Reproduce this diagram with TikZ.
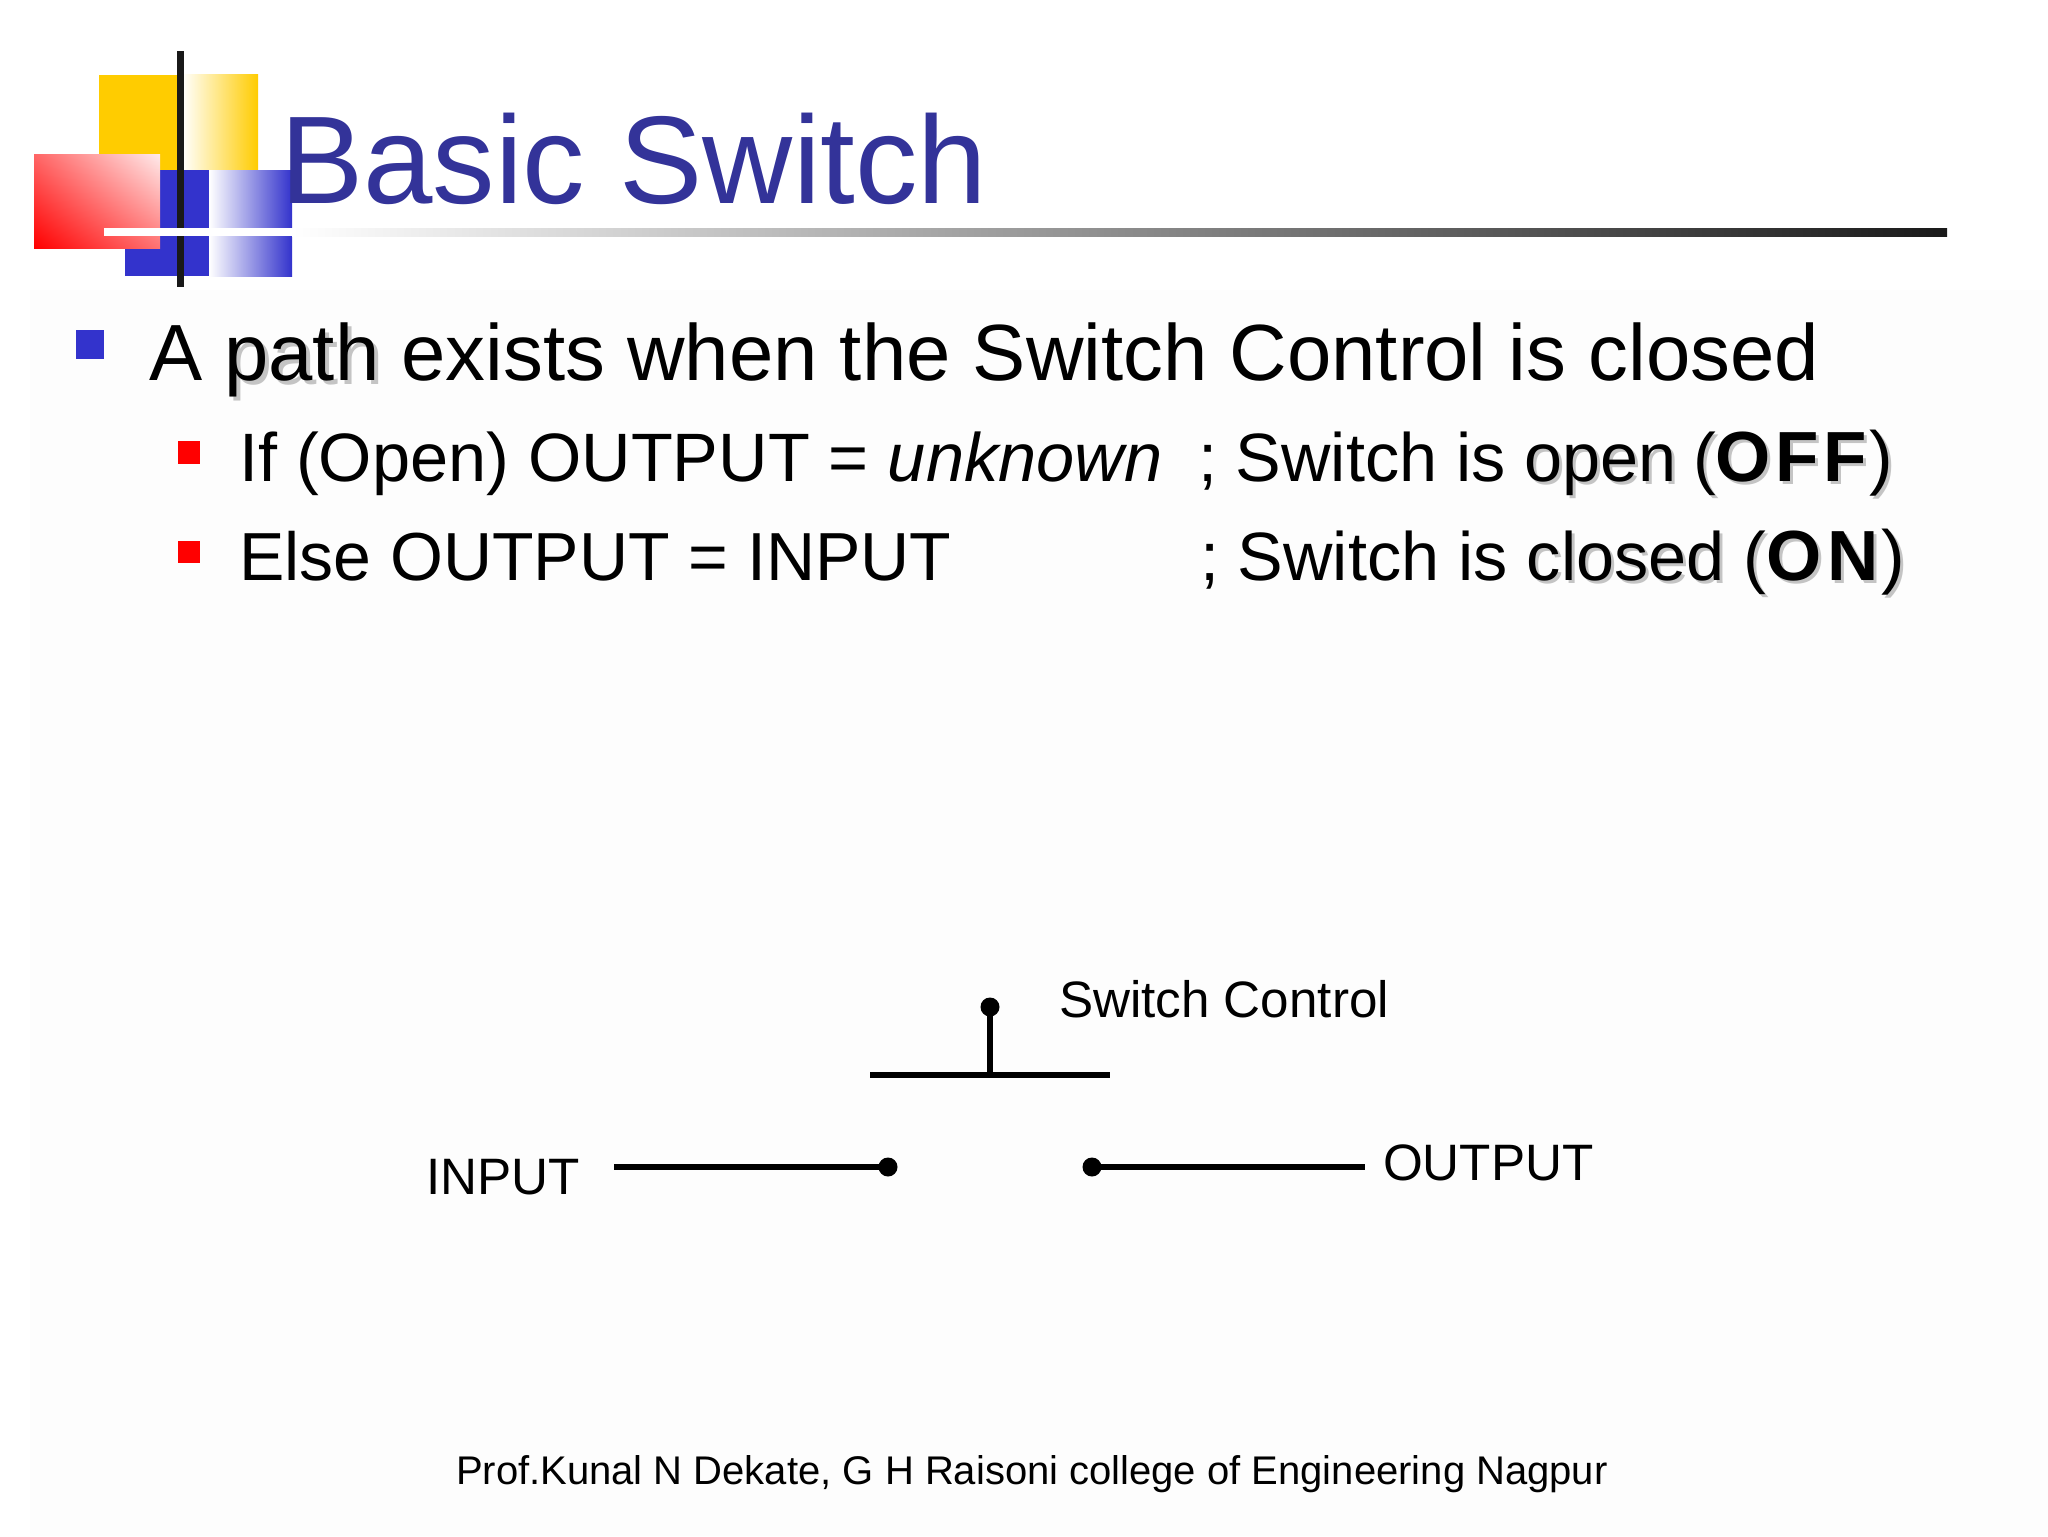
\documentclass[tikz,border=0pt]{standalone}
\usepackage{fontspec}
\setmainfont{Liberation Sans}
\usetikzlibrary{shadings}
\definecolor{titleblue}{HTML}{333399}
\definecolor{bulletblue}{HTML}{3333CC}
\definecolor{barblue}{HTML}{3333CC}
\definecolor{logoyellow}{HTML}{FFCC00}
\definecolor{shadowgray}{HTML}{C4C4C4}
\definecolor{paper}{HTML}{FDFDFD}
\newcommand{\shd}[2][1.5pt]{\leavevmode\rlap{\raisebox{-#1}{\kern#1\textcolor{shadowgray}{#2}}}#2}
\newcommand{\fs}[1]{\fontsize{#1}{#1}\selectfont}
\tikzset{
  txt/.style={anchor=base west,inner sep=0pt,outer sep=0pt,text=black},
  dotnode/.style={circle,fill=black,draw=none,minimum size=9.5pt,inner sep=0pt,outer sep=0pt},
  wire/.style={line width=3pt,black},
  stem/.style={line width=2.6pt,black}
}
\begin{document}
\begin{tikzpicture}[x=0.5pt,y=-0.5pt]
\useasboundingbox (0,0) rectangle (2048,1536);
\fill[white] (0,0) rectangle (2048,1536);
\fill[paper] (30,290) rectangle (2048,1536);
% logo
\fill[logoyellow] (99,75) rectangle (182,170);
\shade[left color=white,right color=logoyellow] (182,75) rectangle (258,170);
\fill[barblue] (125,170) rectangle (209,276);
\shade[left color=white,right color=barblue] (209,170) rectangle (292,276);
\shade[lower left=red,lower right=red!55!white,upper left=red!60!white,upper right=red!8!white] (34,154) rectangle (160,248);
\fill[black!90] (176.5,51) rectangle (183.5,287);
% rule
\fill[white] (104,228) rectangle (292,236);
\shade[left color=white,right color=black!90] (292,228) rectangle (1947,236);
% title
\node[txt,text=titleblue] (title) at (280,203) {\fs{62.4}Basic Switch};
% bullets
\fill[bulletblue] (76,330) rectangle (104,359);
\fill[red] (178,441) rectangle (200,464);
\fill[red] (178,541) rectangle (200,563);
% text
\node[txt] (l1) at (149,380) {\fs{39.85}A \shd[2pt]{path} exists when the Switch Control is closed};
\node[txt] (l2a) at (239,481) {\fs{34.25}If (Open) OUTPUT = \textit{unknown}};
\node[txt] (l2b) at (1198,481) {\fs{34.2}; Switch is \shd{open} \kern-1.5pt\shd{(}\shd{\fs{35.5}\textbf{O}}\kern2.2pt\shd{\fs{35.5}\textbf{F}}\kern2.2pt\shd{\fs{35.5}\textbf{F}}\kern1.5pt\shd{)}};
\node[txt] (l3a) at (239,580) {\fs{34}Else OUTPUT = INPUT};
\node[txt] (l3b) at (1200,580) {\fs{34.2}; Switch is \shd{closed} \shd{(}\shd{\fs{35.5}\textbf{O}}\kern2.8pt\shd{\fs{35.5}\textbf{N}}\kern1.5pt\shd{)}};
% switch
\node[dotnode] (ctl) at (990,1007) {};
\coordinate (barL) at (870,1075);
\coordinate (barR) at (1110,1075);
\coordinate (barM) at (990,1075);
\draw[wire] (barL) -- (barR);
\draw[stem] (ctl.center) -- (barM);
\node[dotnode] (inD) at (888,1167) {};
\node[dotnode] (outD) at (1092,1167) {};
\coordinate (inE) at (614,1167);
\coordinate (outE) at (1365,1167);
\draw[wire] (inE) -- (inD.center);
\draw[wire] (outD.center) -- (outE);
\node[txt] (swc) at (1059,1017) {\fs{25.6}Switch Control};
\node[txt] (inp) at (426,1194) {\fs{25.6}INPUT};
\node[txt] (outp) at (1383,1180) {\fs{25.6}OUTPUT};
\node[txt] (foot) at (456,1484) {\fs{20}Prof.Kunal N Dekate, G H Raisoni college of Engineering Nagpur};
\end{tikzpicture}
\end{document}
